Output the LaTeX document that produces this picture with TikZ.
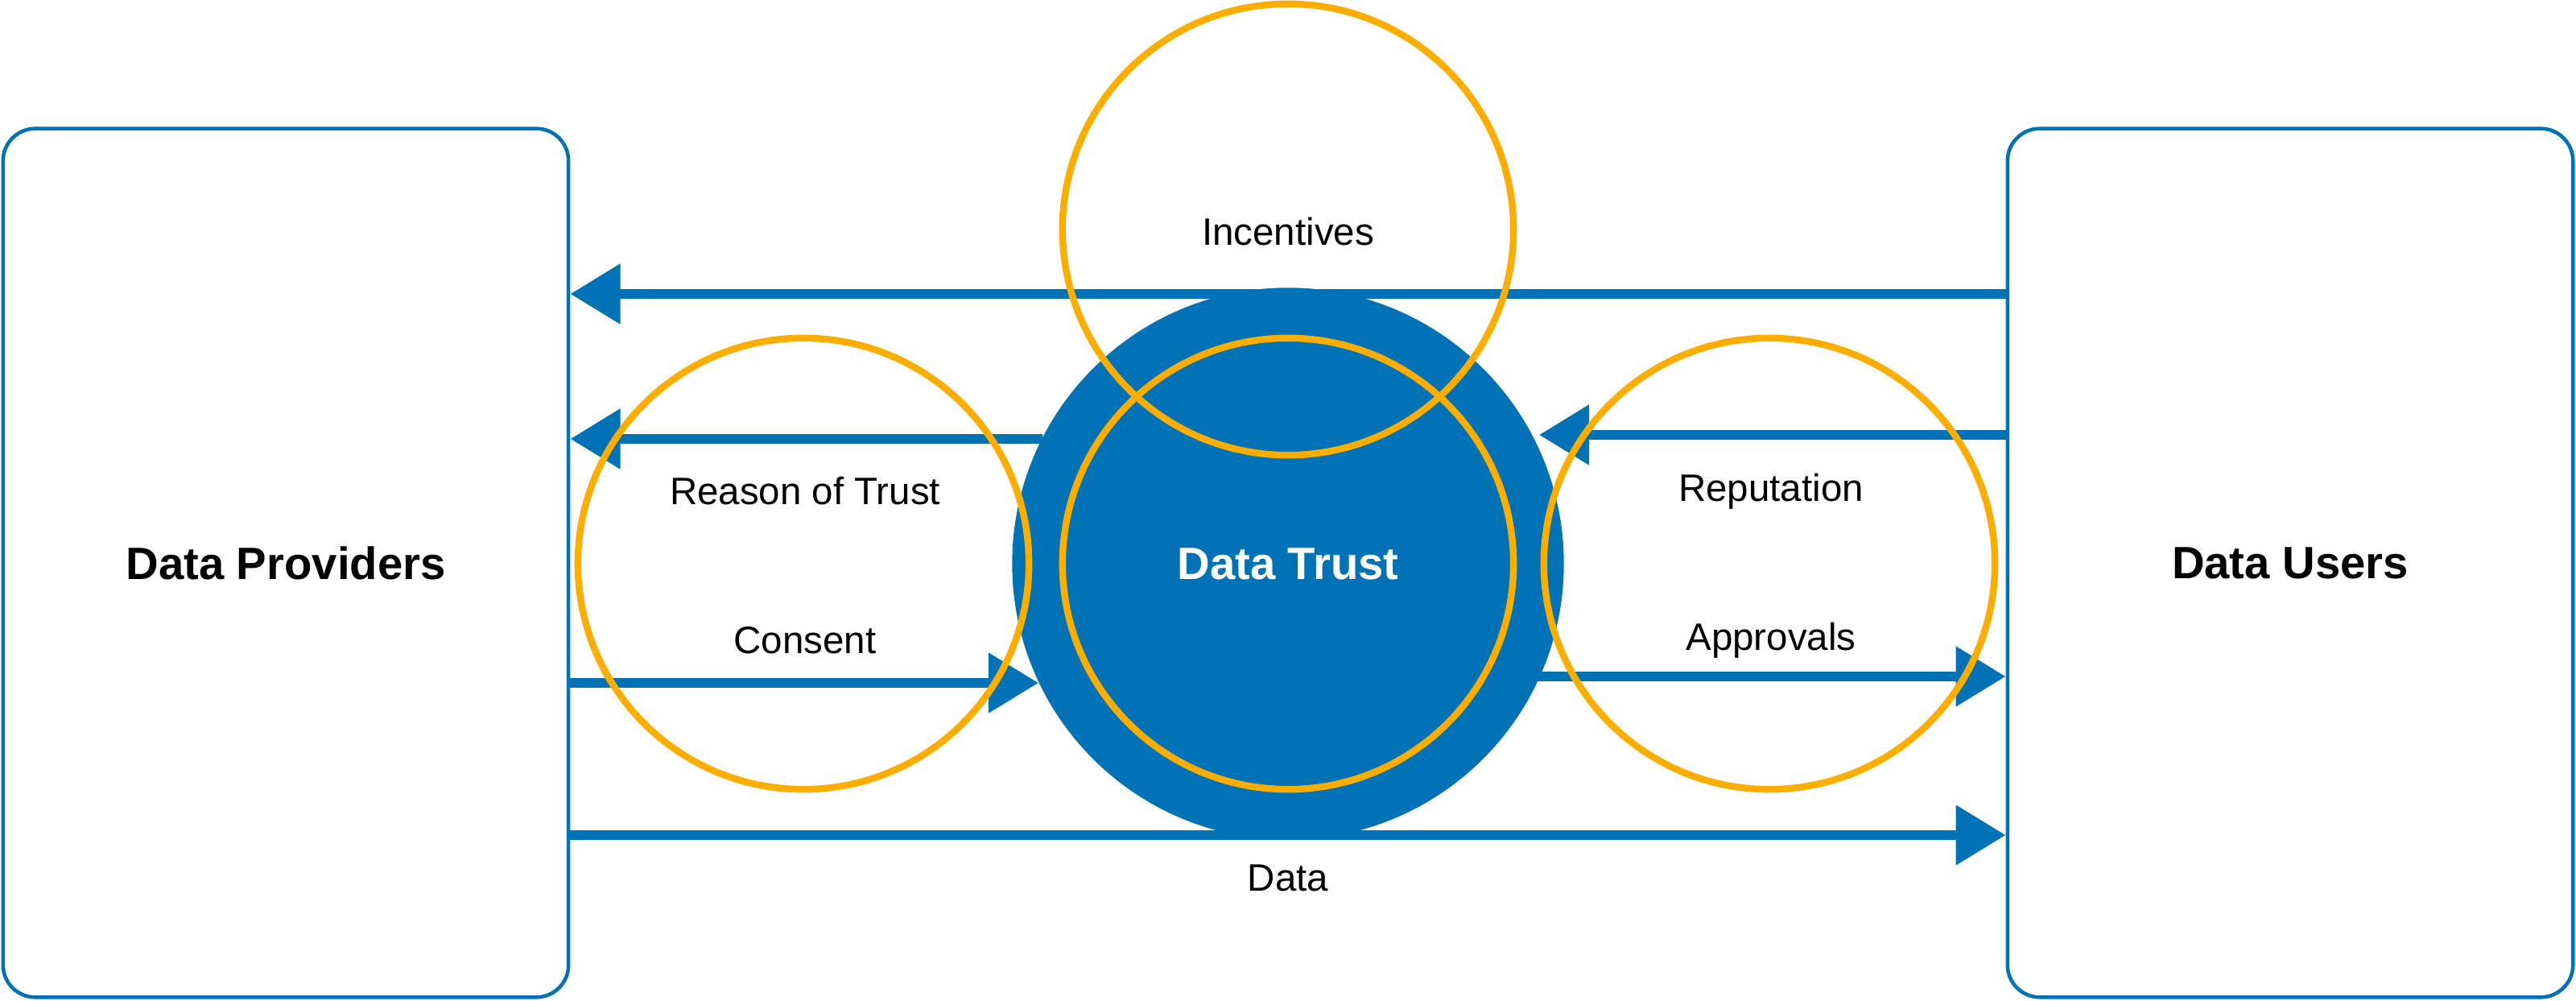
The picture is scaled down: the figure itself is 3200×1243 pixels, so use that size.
\documentclass[tikz,border=0pt]{standalone}
\usepackage{fontspec}
\setmainfont{Liberation Sans}
\usetikzlibrary{arrows.meta}
\definecolor{tblue}{HTML}{0072B5}
\definecolor{torange}{HTML}{FBAD00}
\begin{document}
\begin{tikzpicture}[x=0.01cm,y=-0.01cm,
  box/.style={draw=tblue,line width=1.3pt,rounded corners=0.4cm,minimum width=7.02cm,minimum height=10.78cm,font=\fontsize{16}{18}\selectfont\bfseries},
  ring/.style={circle,draw=torange,line width=2.4pt,minimum size=5.6cm,inner sep=0pt},
  flow/.style={draw=tblue,line width=3.4pt,-{Triangle[length=0.62cm,width=0.72cm]}},
  lbl/.style={font=\fontsize{13.5}{16}\selectfont}]
\useasboundingbox (0,0) rectangle (3200,1243);
\node[box] (dp) at (355,699) {Data Providers};
\node[box] (du) at (2845,699) {Data Users};
\node[circle,fill=tblue,minimum size=6.85cm,inner sep=0pt,text=white,font=\fontsize{16}{18}\selectfont\bfseries] (dt) at (1600,700) {Data Trust};
\coordinate (a1s) at (du.west |- 0,365); \coordinate (a1e) at (dp.east |- 0,365);
\coordinate (a2s) at (1295,545); \coordinate (a2e) at (dp.east |- 0,545);
\coordinate (a3s) at (du.west |- 0,540); \coordinate (a3e) at (1912,540);
\coordinate (a4s) at (dp.east |- 0,848); \coordinate (a4e) at (1290,848);
\coordinate (a5s) at (1905,840); \coordinate (a5e) at (du.west |- 0,840);
\coordinate (a6s) at (dp.east |- 0,1037); \coordinate (a6e) at (du.west |- 0,1037);
\draw[flow] (a1s) -- (a1e);
\draw[flow] (a2s) -- (a2e);
\draw[flow] (a3s) -- (a3e);
\draw[flow] (a4s) -- (a4e);
\draw[flow] (a5s) -- (a5e);
\draw[flow] (a6s) -- (a6e);
\node[ring] (ri) at (1600,285) {};
\node[ring] (rc) at (1600,700) {};
\node[ring] (rl) at (998,700) {};
\node[ring] (rr) at (2198,700) {};
\node[lbl] (incent) at (1600,288) {Incentives};
\node[lbl] (rot) at (1000,610) {Reason of Trust};
\node[lbl] (cons) at (1000,795) {Consent};
\node[lbl] (rep) at (2200,610) {Reputation};
\node[lbl] (appr) at (2200,795) {Approvals};
\node[lbl] (data) at (1600,1090) {Data};
\end{tikzpicture}
\end{document}
